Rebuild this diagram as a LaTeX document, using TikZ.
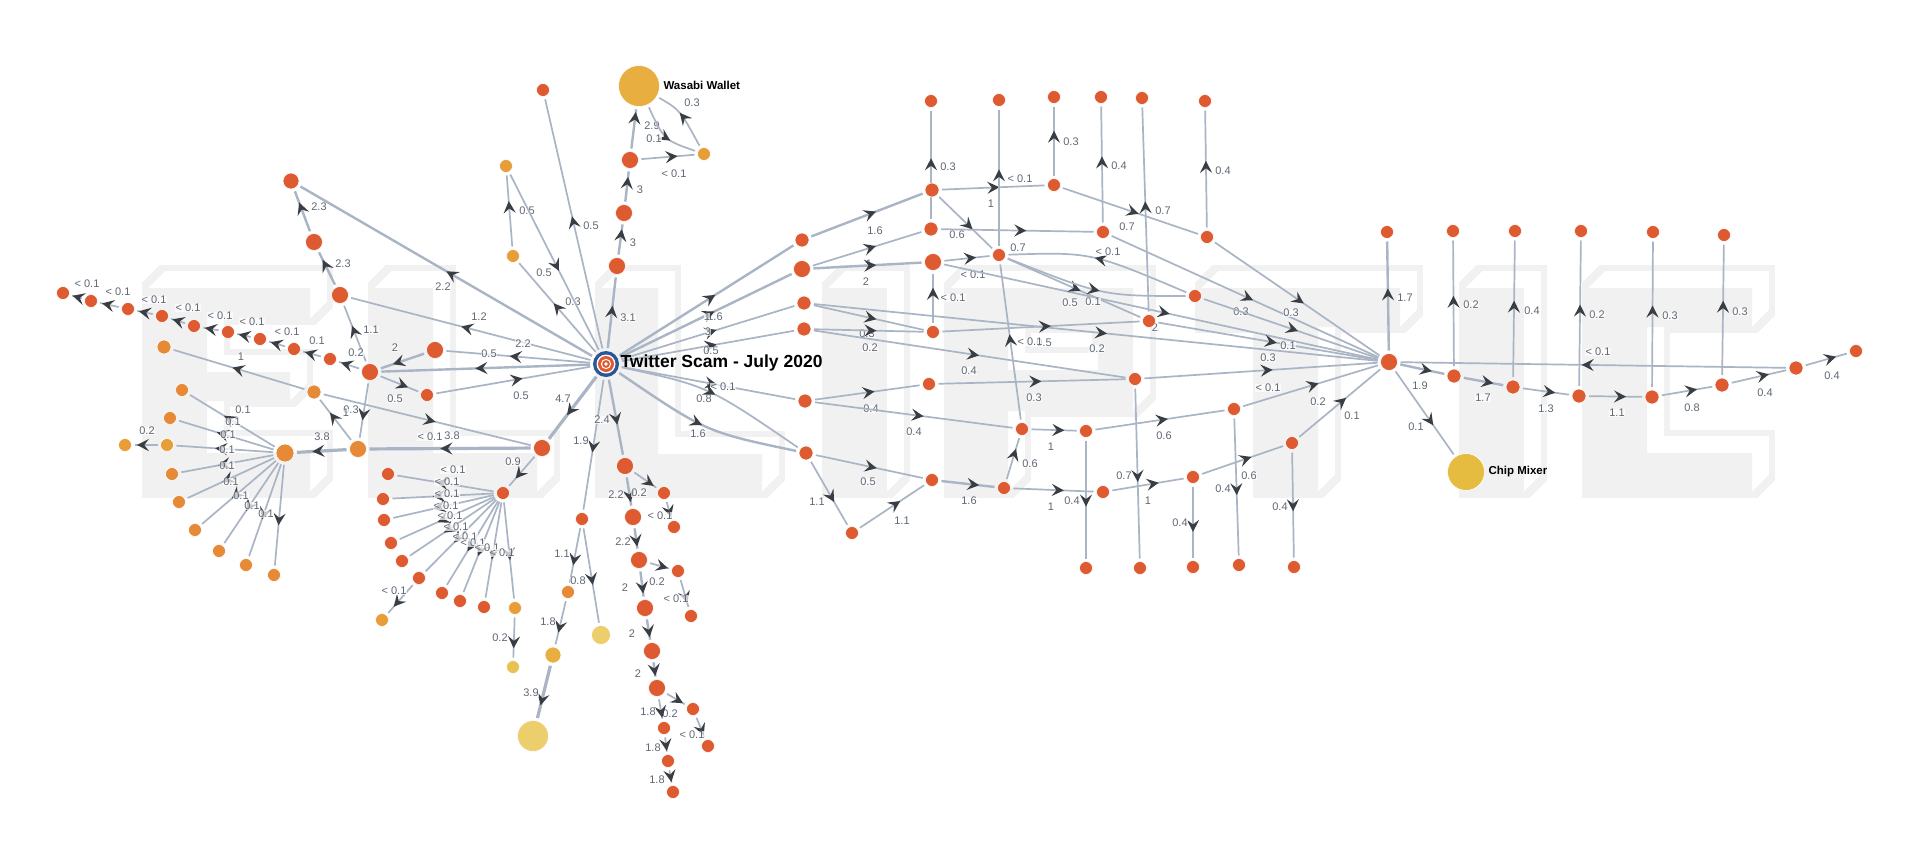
\documentclass[tikz,border=0pt]{standalone}
\usepackage{fontspec}
\setmainfont{Liberation Sans}
\usetikzlibrary{arrows.meta,decorations.markings,backgrounds}

\definecolor{rd}{HTML}{DE5A30}
\definecolor{org}{HTML}{E68A38}
\definecolor{amb}{HTML}{E89E38}
\definecolor{gld}{HTML}{E8AE40}
\definecolor{yel}{HTML}{ECCE6C}
\definecolor{chipcol}{HTML}{E5BC40}
\definecolor{edgecol}{HTML}{A9B5C5}
\definecolor{tipcol}{HTML}{3A3D42}
\definecolor{labcol}{HTML}{5F6875}
\definecolor{wmcol}{HTML}{F1F1F1}
\definecolor{hubblue}{HTML}{2B5797}

\tikzset{
  dot/.style={circle,inner sep=0pt,minimum size=#1,outer sep=3pt,draw=white,line width=.6pt},
  dot/.default=13pt,
  flow/.style={draw=edgecol,line width=1.7pt,postaction={decorate},
    decoration={markings,mark=at position #1 with {\arrow{Stealth[length=12pt,width=12pt,inset=4.5pt,color=tipcol]}}}},
  fat/.style={line width=2.4pt},
  fatter/.style={line width=3.2pt},
  lab/.style={font=\fontsize{11}{12}\selectfont,text=labcol,fill=white,fill opacity=.7,text opacity=1,inner sep=.4pt},
  wmedge/.style={draw=wmcol,line width=12pt,line join=miter},
  wmfill/.style={fill=wmcol,even odd rule},
}

% swept outline of a watermark letter, then its face
\newcommand{\wmletter}[1]{%
  \foreach \s in {0,...,17} {\draw[wmedge,shift={(\s,-\s)}] #1;}
  \foreach \s in {0,...,17} {\fill[white,even odd rule,shift={(\s,-\s)}] #1;}
  \fill[wmfill] #1;
}

\begin{document}
\begin{tikzpicture}[x=1pt,y=-1pt]
  \useasboundingbox (0,0) rectangle (1920,849);

  % main hub
  \node[circle,fill=hubblue,minimum size=26pt,inner sep=0pt,outer sep=3pt] (scam) at (606,364) {};
  \fill[white] (scam.center) circle (9.5pt);
  \fill[rd] (scam.center) circle (8pt);
  \draw[white,line width=1pt] (scam.center) circle (4.6pt);
  \fill[white] (scam.center) circle (1.8pt);
  \node[anchor=west,font=\fontsize{17.5}{20}\bfseries\selectfont] (scamlabel) at (617,363) {Twitter Scam - July 2020};

  % left branch
  \node[dot=16pt,fill=rd] (top1) at (291,181) {};
  \node[dot=17pt,fill=rd] (top2) at (314,242) {};
  \node[dot=17pt,fill=rd] (top3) at (340,295) {};
  \node[dot=17pt,fill=rd] (k0) at (370,372) {};
  \node[dot=13pt,fill=rd] (k1) at (330,359) {};
  \node[dot=13pt,fill=rd] (k2) at (294,349) {};
  \node[dot=13pt,fill=rd] (k3) at (260,339) {};
  \node[dot=13pt,fill=rd] (k4) at (228,332) {};
  \node[dot=13pt,fill=rd] (k5) at (194,326) {};
  \node[dot=13pt,fill=rd] (k6) at (162,316) {};
  \node[dot=13pt,fill=rd] (k7) at (128,309) {};
  \node[dot=13pt,fill=rd] (k8) at (91,301) {};
  \node[dot=13pt,fill=rd] (k9) at (63,293) {};
  \node[dot=17pt,fill=rd] (e1) at (435,350) {};
  \node[dot=13pt,fill=rd] (e2) at (427,395) {};
  \node[dot=14pt,fill=org] (o1) at (314,392) {};
  \node[dot=14pt,fill=org] (o0) at (164,347) {};
  \node[dot=17pt,fill=org] (o2) at (358,449) {};
  \node[dot=17pt,fill=rd] (r0) at (542,448) {};

  % first fan
  \node[dot=18pt,fill=org] (s1) at (285,453) {};
  \node[dot=13pt,fill=org] (s1a) at (182,390) {};
  \node[dot=13pt,fill=org] (s1b) at (170,418) {};
  \node[dot=13pt,fill=amb] (s1c) at (167,445) {};
  \node[dot=13pt,fill=org] (s1d) at (172,474) {};
  \node[dot=13pt,fill=org] (s1e) at (179,502) {};
  \node[dot=13pt,fill=org] (s1f) at (195,530) {};
  \node[dot=13pt,fill=org] (s1g) at (219,551) {};
  \node[dot=13pt,fill=org] (s1h) at (246,565) {};
  \node[dot=13pt,fill=org] (s1i) at (274,575) {};
  \node[dot=13pt,fill=amb] (o3) at (125,445) {};

  % second fan
  \node[dot=13pt,fill=rd] (s2) at (503,493) {};
  \node[dot=13pt,fill=rd] (s2a) at (388,474) {};
  \node[dot=13pt,fill=rd] (s2b) at (383,499) {};
  \node[dot=13pt,fill=rd] (s2c) at (384,520) {};
  \node[dot=13pt,fill=rd] (s2d) at (391,543) {};
  \node[dot=13pt,fill=rd] (s2e) at (402,561) {};
  \node[dot=13pt,fill=rd] (s2f) at (419,578) {};
  \node[dot=13pt,fill=rd] (s2g) at (442,593) {};
  \node[dot=13pt,fill=rd] (s2h) at (460,601) {};
  \node[dot=13pt,fill=rd] (s2i) at (484,607) {};
  \node[dot=13pt,fill=amb] (s2j) at (515,608) {};
  \node[dot=13pt,fill=amb] (s2k) at (382,620) {};
  \node[dot=13pt,fill=yel!40!chipcol] (s2l) at (513,667) {};

  % lower branches
  \node[dot=13pt,fill=rd] (d1) at (582,519) {};
  \node[dot=13pt,fill=org] (d2) at (568,592) {};
  \node[dot=19pt,fill=yel] (d3) at (601,635) {};
  \node[dot=16pt,fill=gld] (d4) at (553,655) {};
  \node[dot=31pt,fill=yel] (d5) at (533,736) {};
  \node[dot=17pt,fill=rd] (f0) at (625,466) {};
  \node[dot=13pt,fill=rd] (f1) at (664,493) {};
  \node[dot=13pt,fill=rd] (f2) at (674,527) {};
  \node[dot=17pt,fill=rd] (f3) at (633,517) {};
  \node[dot=17pt,fill=rd] (f4) at (639,560) {};
  \node[dot=13pt,fill=rd] (f5) at (678,571) {};
  \node[dot=13pt,fill=rd] (f6) at (691,616) {};
  \node[dot=17pt,fill=rd] (f7) at (645,608) {};
  \node[dot=17pt,fill=rd] (f8) at (652,651) {};
  \node[dot=17pt,fill=rd] (f9) at (657,688) {};
  \node[dot=13pt,fill=rd] (f10) at (693,709) {};
  \node[dot=13pt,fill=rd] (f11) at (708,746) {};
  \node[dot=13pt,fill=rd] (f12) at (664,728) {};
  \node[dot=13pt,fill=rd] (f13) at (668,761) {};
  \node[dot=13pt,fill=rd] (f14) at (673,792) {};

  % upper branches
  \node[dot=17pt,fill=rd] (u1) at (617,266) {};
  \node[dot=17pt,fill=rd] (u2) at (624,213) {};
  \node[dot=17pt,fill=rd] (u3) at (630,160) {};
  \node[dot=41pt,fill=gld] (wasabi) at (639,86) {};
  \node[anchor=west,font=\fontsize{11.5}{13}\bfseries\selectfont] (wasabilabel) at (660,85) {Wasabi Wallet};
  \node[dot=13pt,fill=amb] (u4) at (704,154) {};
  \node[dot=13pt,fill=rd] (u5) at (543,90) {};
  \node[dot=13pt,fill=amb] (u6) at (513,256) {};
  \node[dot=13pt,fill=amb] (u7) at (506,166) {};

  % right network
  \node[dot=14pt,fill=rd] (a1) at (802,240) {};
  \node[dot=17pt,fill=rd] (a2) at (802,269) {};
  \node[dot=14pt,fill=rd] (a3) at (804,303) {};
  \node[dot=14pt,fill=rd] (a4) at (804,329) {};
  \node[dot=14pt,fill=rd] (a5) at (805,401) {};
  \node[dot=14pt,fill=rd] (a6) at (806,453) {};
  \node[dot=14pt,fill=rd] (b1) at (932,190) {};
  \node[dot=14pt,fill=rd] (b2) at (931,229) {};
  \node[dot=17pt,fill=rd] (b3) at (933,262) {};
  \node[dot=13pt,fill=rd] (b4) at (933,332) {};
  \node[dot=13pt,fill=rd] (b5) at (929,384) {};
  \node[dot=13pt,fill=rd] (b6) at (932,480) {};
  \node[dot=13pt,fill=rd] (b7) at (852,533) {};
  \node[dot=13pt,fill=rd] (t1) at (931,101) {};
  \node[dot=13pt,fill=rd] (t2) at (999,100) {};
  \node[dot=13pt,fill=rd] (t3) at (1054,97) {};
  \node[dot=13pt,fill=rd] (t4) at (1101,97) {};
  \node[dot=13pt,fill=rd] (t5) at (1142,98) {};
  \node[dot=13pt,fill=rd] (t6) at (1205,101) {};
  \node[dot=13pt,fill=rd] (g1) at (1054,185) {};
  \node[dot=13pt,fill=rd] (g2) at (1103,232) {};
  \node[dot=13pt,fill=rd] (g3) at (1207,237) {};
  \node[dot=13pt,fill=rd] (g4) at (999,255) {};
  \node[dot=13pt,fill=rd] (g5) at (1195,296) {};
  \node[dot=13pt,fill=rd] (g6) at (1149,321) {};
  \node[dot=13pt,fill=rd] (g7) at (1135,379) {};
  \node[dot=13pt,fill=rd] (h1) at (1022,429) {};
  \node[dot=13pt,fill=rd] (h2) at (1086,431) {};
  \node[dot=13pt,fill=rd] (h3) at (1234,409) {};
  \node[dot=13pt,fill=rd] (h4) at (1004,488) {};
  \node[dot=13pt,fill=rd] (h5) at (1103,492) {};
  \node[dot=13pt,fill=rd] (h6) at (1193,477) {};
  \node[dot=13pt,fill=rd] (h7) at (1292,443) {};
  \node[dot=13pt,fill=rd] (v1) at (1086,568) {};
  \node[dot=13pt,fill=rd] (v2) at (1140,568) {};
  \node[dot=13pt,fill=rd] (v3) at (1193,567) {};
  \node[dot=13pt,fill=rd] (v4) at (1239,565) {};
  \node[dot=13pt,fill=rd] (v5) at (1294,567) {};

  % far right
  \node[dot=17pt,fill=rd] (merge) at (1389,362) {};
  \node[dot=37pt,fill=chipcol] (chip) at (1466,472) {};
  \node[anchor=west,font=\fontsize{11.5}{13}\bfseries\selectfont] (chiplabel) at (1485,472) {Chip Mixer};
  \node[dot=14pt,fill=rd] (m1) at (1454,376) {};
  \node[dot=14pt,fill=rd] (m2) at (1513,387) {};
  \node[dot=14pt,fill=rd] (m3) at (1579,396) {};
  \node[dot=14pt,fill=rd] (m4) at (1652,397) {};
  \node[dot=14pt,fill=rd] (m5) at (1722,385) {};
  \node[dot=14pt,fill=rd] (m6) at (1796,368) {};
  \node[dot=13pt,fill=rd] (m7) at (1856,351) {};
  \node[dot=13pt,fill=rd] (w0) at (1387,232) {};
  \node[dot=13pt,fill=rd] (w1) at (1453,231) {};
  \node[dot=13pt,fill=rd] (w2) at (1515,231) {};
  \node[dot=13pt,fill=rd] (w3) at (1581,231) {};
  \node[dot=13pt,fill=rd] (w4) at (1653,232) {};
  \node[dot=13pt,fill=rd] (w5) at (1724,235) {};

  \begin{scope}[on background layer]
    \fill[white] (0,0) rectangle (1920,849);
    % watermark
    \wmletter{(148,288)--(310,288)--(310,319)--(207,319)--(207,372)--(290,372)--(290,401)--(207,401)--(207,453)--(310,453)--(310,492)--(148,492)--cycle}
    \wmletter{(374,288)--(433,288)--(433,453)--(537,453)--(537,492)--(374,492)--cycle}
    \wmletter{(601,288)--(658,288)--(658,454)--(762,454)--(762,492)--(601,492)--cycle}
    \wmletter{(828,288)--(887,288)--(887,492)--(828,492)--cycle}
    \wmletter{(950,288)--(1133,288)--(1133,411)--(1008,411)--(1008,492)--(950,492)--cycle (1008,327)--(1098,327)--(1098,370)--(1008,370)--cycle}
    \wmletter{(1201,288)--(1400,288)--(1400,327)--(1318,327)--(1318,492)--(1259,492)--(1259,327)--(1201,327)--cycle}
    \wmletter{(1465,288)--(1524,288)--(1524,492)--(1465,492)--cycle}
    \wmletter{(1588,288)--(1752,288)--(1752,327)--(1647,327)--(1647,453)--(1752,453)--(1752,492)--(1588,492)--cycle}

    % left branch
    \draw[flow=.5,fat] (scam) -- (top1) node[lab] at (443,287) {2.2};
    \draw[flow=.54] (scam) -- (top3) node[lab] at (479,317) {1.2};
    \draw[flow=.55,fat] (scam) -- (k0) node[lab] at (523,344) {2.2};
    \draw[flow=.56] (scam) -- (e1) node[lab] at (489,354) {0.5};
    \draw[flow=.56] (e2) -- (scam) node[lab] at (521,396) {0.5};
    \draw[flow=.72,fat] (top2) -- (top1) node[lab] at (319,207) {2.3};
    \draw[flow=.77,fat] (top3) -- (top2) node[lab] at (343,264) {2.3};
    \draw[flow=.64] (k0) -- (top3) node[lab] at (371,330) {1.1};
    \draw[flow=.72,fat] (e1) -- (k0) node[lab] at (395,348) {2};
    \draw[flow=.73] (k0) -- (e2) node[lab] at (395,399) {0.5};
    \draw[flow=.9] (k0) -- (k1) node[lab] at (356,353) {0.2};
    \draw[flow=.9] (k1) -- (k2) node[lab] at (317,341) {0.1};
    \draw[flow=.9] (k2) -- (k3) node[lab] at (287,332) {< 0.1};
    \draw[flow=.9] (k3) -- (k4) node[lab] at (252,322) {< 0.1};
    \draw[flow=.9] (k4) -- (k5) node[lab] at (220,316) {< 0.1};
    \draw[flow=.9] (k5) -- (k6) node[lab] at (188,308) {< 0.1};
    \draw[flow=.9] (k6) -- (k7) node[lab] at (154,300) {< 0.1};
    \draw[flow=.9] (k7) -- (k8) node[lab] at (118,292) {< 0.1};
    \draw[flow=.95] (k8) -- (k9) node[lab] at (87,284) {< 0.1};
    \draw[flow=.68] (k0) -- (o2) node[lab] at (351,410) {0.3};
    \draw[flow=.68] (o2) -- (o1) node[lab] at (346,413) {1};
    \draw[flow=.55] (o1) -- (o0) node[lab] at (241,357) {1};
    \draw[flow=.54] (o1) -- (r0) node[lab] at (430,437) {< 0.1};
    \draw[flow=.56,fatter] (r0) -- (o2) node[lab] at (452,436) {3.8};
    \draw[flow=.69,fatter] (o2) -- (s1) node[lab] at (322,437) {3.8};
    \draw[flow=.62,fatter] (scam) -- (r0) node[lab] at (563,399) {4.7};
    \draw[flow=.75] (r0) -- (s2) node[lab] at (513,462) {0.9};

    % first fan
    \draw[flow=.6] (s1) -- (s1a) node[lab] at (243,410) {0.1};
    \draw[flow=.6] (s1) -- (s1b) node[lab] at (233,422) {0.1};
    \draw[flow=.6] (s1) -- (s1c) node[lab] at (228,435) {0.1};
    \draw[flow=.6] (s1) -- (s1d) node[lab] at (227,450) {0.1};
    \draw[flow=.6] (s1) -- (s1e) node[lab] at (227,466) {0.1};
    \draw[flow=.6] (s1) -- (s1f) node[lab] at (231,482) {0.1};
    \draw[flow=.6] (s1) -- (s1g) node[lab] at (241,496) {0.1};
    \draw[flow=.6] (s1) -- (s1h) node[lab] at (252,506) {0.1};
    \draw[flow=.6] (s1) -- (s1i) node[lab] at (266,514) {0.1};
    \draw[flow=.9] (s1c) -- (o3) node[lab] at (147,431) {0.2};

    % second fan
    \draw[flow=.6] (s2) -- (s2a) node[lab] at (453,470) {< 0.1};
    \draw[flow=.6] (s2) -- (s2b) node[lab] at (447,482) {< 0.1};
    \draw[flow=.6] (s2) -- (s2c) node[lab] at (447,494) {< 0.1};
    \draw[flow=.6] (s2) -- (s2d) node[lab] at (446,506) {< 0.1};
    \draw[flow=.6] (s2) -- (s2e) node[lab] at (450,516) {< 0.1};
    \draw[flow=.6] (s2) -- (s2f) node[lab] at (456,527) {< 0.1};
    \draw[flow=.6] (s2) -- (s2g) node[lab] at (465,537) {< 0.1};
    \draw[flow=.6] (s2) -- (s2h) node[lab] at (473,543) {< 0.1};
    \draw[flow=.6] (s2) -- (s2i) node[lab] at (487,548) {< 0.1};
    \draw[flow=.6] (s2) -- (s2j) node[lab] at (502,553) {< 0.1};
    \draw[flow=.78] (s2f) -- (s2k) node[lab] at (394,591) {< 0.1};
    \draw[flow=.77] (s2j) -- (s2l) node[lab] at (500,638) {0.2};

    % lower branches
    \draw[flow=.56] (scam) -- (d1) node[lab] at (581,441) {1.9};
    \draw[flow=.68] (d1) -- (d2) node[lab] at (562,554) {1.1};
    \draw[flow=.6] (d1) -- (d3) node[lab] at (578,581) {0.8};
    \draw[flow=.73] (d2) -- (d4) node[lab] at (548,622) {1.8};
    \draw[flow=.76,fatter] (d4) -- (d5) node[lab] at (531,693) {3.9};
    \draw[flow=.6,fat] (scam) -- (f0) node[lab] at (602,420) {2.4};
    \draw[flow=.87,fat] (f0) -- (f3) node[lab] at (616,495) {2.2};
    \draw[flow=.89] (f0) -- (f1) node[lab] at (639,493) {0.2};
    \draw[flow=.95] (f1) -- (f2) node[lab] at (660,516) {< 0.1};
    \draw[flow=.9,fat] (f3) -- (f4) node[lab] at (623,542) {2.2};
    \draw[flow=.95] (f4) -- (f5) node[lab] at (657,582) {0.2};
    \draw[flow=.86] (f5) -- (f6) node[lab] at (676,599) {< 0.1};
    \draw[flow=.88,fat] (f4) -- (f7) node[lab] at (625,588) {2};
    \draw[flow=.88,fat] (f7) -- (f8) node[lab] at (632,634) {2};
    \draw[flow=.95,fat] (f8) -- (f9) node[lab] at (638,674) {2};
    \draw[flow=.9] (f9) -- (f10) node[lab] at (670,714) {0.2};
    \draw[flow=.92] (f10) -- (f11) node[lab] at (692,735) {< 0.1};
    \draw[flow=.95] (f9) -- (f12) node[lab] at (648,712) {1.8};
    \draw[flow=.95] (f12) -- (f13) node[lab] at (653,748) {1.8};
    \draw[flow=.95] (f13) -- (f14) node[lab] at (657,780) {1.8};

    % upper branches
    \draw[flow=.6,fat] (scam) -- (u1) node[lab] at (628,318) {3.1};
    \draw[flow=.84,fat] (u1) -- (u2) node[lab] at (633,243) {3};
    \draw[flow=.82,fat] (u2) -- (u3) node[lab] at (640,190) {3};
    \draw[flow=.93,fat] (u3) -- (wasabi) node[lab] at (652,126) {2.9};
    \draw[flow=.68] (u3) -- (u4) node[lab] at (674,174) {< 0.1};
    \draw[flow=.6] (wasabi) .. controls (664,140) .. (u4) node[lab] at (654,139) {0.1};
    \draw[flow=.6] (u4) .. controls (680,110) .. (wasabi) node[lab] at (692,103) {0.3};
    \draw[flow=.53] (scam) -- (u5) node[lab] at (591,226) {0.5};
    \draw[flow=.55] (scam) -- (u6) node[lab] at (573,302) {0.3};
    \draw[flow=.64] (u6) -- (u7) node[lab] at (527,211) {0.5};
    \draw[flow=.55] (u7) -- (scam) node[lab] at (544,273) {0.5};

    % right network
    \draw[flow=.55,fat] (scam) -- (a1) node[lab] at (715,317) {1.6};
    \draw[flow=.55,fat] (scam) -- (a2) node[lab] at (707,317) {1};
    \draw[flow=.55] (scam) -- (a3) node[lab] at (708,332) {3};
    \draw[flow=.55] (scam) -- (a4) node[lab] at (711,351) {0.5};
    \draw[flow=.55] (scam) -- (a5) node[lab] at (723,387) {< 0.1};
    \draw[flow=.5] (scam) .. controls (708,386) .. (a6) node[lab] at (704,399) {0.8};
    \draw[flow=.5,fat] (scam) .. controls (706,432) .. (a6) node[lab] at (698,434) {1.6};
    \draw[flow=.58,fat] (a1) -- (b1) node[lab] at (875,231) {1.6};
    \draw[flow=.58] (a2) -- (b2) node[lab] at (869,264) {1};
    \draw[flow=.58,fat] (a2) -- (b3) node[lab] at (866,282) {2};
    \draw[flow=.7] (b3) -- (g4) node[lab] at (973,275) {< 0.1};
    \draw[flow=.71] (b4) -- (b3) node[lab] at (953,298) {< 0.1};
    \draw[flow=.57] (a3) -- (b4) node[lab] at (867,334) {0.3};
    \draw[flow=.57] (a4) -- (b4) node[lab] at (870,348) {0.2};
    \draw[flow=.52] (a3) -- (merge) node[lab] at (1097,349) {0.2};
    \draw[flow=.53] (a4) -- (g7) node[lab] at (969,371) {0.4};
    \draw[flow=.55] (b4) -- (g6) node[lab] at (1044,343) {0.5};
    \draw[flow=.52] (b3) -- (merge) node[lab] at (1155,328) {2};
    \draw[flow=.55] (h1) -- (g4) node[lab] at (1030,342) {< 0.1};
    \draw[flow=.57] (a5) -- (b5) node[lab] at (871,409) {0.4};
    \draw[flow=.55] (a5) -- (h1) node[lab] at (914,432) {0.4};
    \draw[flow=.55] (b5) -- (g7) node[lab] at (1034,398) {0.3};
    \draw[flow=.55] (g7) -- (merge) node[lab] at (1268,388) {< 0.1};
    \draw[flow=.55] (g7) -- (v2) node[lab] at (1124,476) {0.7};
    \draw[flow=.73] (h1) -- (h2) node[lab] at (1051,447) {1};
    \draw[flow=.56] (h2) -- (v1) node[lab] at (1072,501) {0.4};
    \draw[flow=.56] (h2) -- (h3) node[lab] at (1164,436) {0.6};
    \draw[flow=.56] (h3) -- (merge) node[lab] at (1318,402) {0.2};
    \draw[flow=.56] (h3) -- (v4) node[lab] at (1223,489) {0.4};
    \draw[flow=.57] (a6) -- (b6) node[lab] at (868,482) {0.5};
    \draw[flow=.64] (a6) -- (b7) node[lab] at (817,502) {1.1};
    \draw[flow=.63] (b7) -- (b6) node[lab] at (902,521) {1.1};
    \draw[flow=.71,fat] (b6) -- (h4) node[lab] at (969,501) {1.6};
    \draw[flow=.74] (h4) -- (h1) node[lab] at (1030,464) {0.6};
    \draw[flow=.63] (h4) -- (h5) node[lab] at (1051,507) {1};
    \draw[flow=.65] (h5) -- (h6) node[lab] at (1148,501) {1};
    \draw[flow=.64] (h6) -- (v3) node[lab] at (1180,523) {0.4};
    \draw[flow=.61] (h6) -- (h7) node[lab] at (1249,476) {0.6};
    \draw[flow=.56] (h7) -- (v5) node[lab] at (1280,507) {0.4};
    \draw[flow=.58] (h7) -- (merge) node[lab] at (1352,416) {0.1};
    \draw[flow=.56] (b2) -- (t1) node[lab] at (948,167) {0.3};
    \draw[flow=.56] (b1) -- (g1) node[lab] at (991,204) {1};
    \draw[flow=.63] (b1) -- (g4) node[lab] at (957,235) {0.6};
    \draw[flow=.56] (b2) -- (g2) node[lab] at (1018,248) {0.7};
    \draw[flow=.56] (g4) -- (t2) node[lab] at (1020,179) {< 0.1};
    \draw[flow=.65] (g1) -- (t3) node[lab] at (1071,142) {0.3};
    \draw[flow=.56] (g1) -- (g3) node[lab] at (1127,227) {0.7};
    \draw[flow=.57] (g2) -- (t4) node[lab] at (1119,166) {0.4};
    \draw[flow=.54] (g6) -- (t5) node[lab] at (1163,211) {0.7};
    \draw[flow=.57] (g3) -- (t6) node[lab] at (1223,171) {0.4};
    \draw[flow=.53] (g2) -- (merge) node[lab] at (1241,312) {0.3};
    \draw[flow=.54] (g3) -- (merge) node[lab] at (1291,313) {0.3};
    \draw[flow=.55] (g4) -- (g6) node[lab] at (1070,303) {0.5};
    \draw[flow=.53] (g4) .. controls (1103,296) .. (g5) node[lab] at (1093,302) {0.1};
    \draw[flow=.53] (g5) .. controls (1091,252) .. (g4) node[lab] at (1108,252) {< 0.1};
    \draw[flow=.54] (g5) -- (merge) node[lab] at (1268,358) {0.3};
    \draw[flow=.54] (g6) -- (merge) node[lab] at (1288,346) {0.1};

    % far right
    \draw[flow=.65] (merge) -- (chip) node[lab] at (1416,427) {0.1};
    \draw[flow=.57,fat] (merge) -- (w0) node[lab] at (1405,298) {1.7};
    \draw[flow=.72,fat] (merge) -- (m1) node[lab] at (1420,386) {1.9};
    \draw[flow=.75,fat] (m1) -- (m2) node[lab] at (1483,398) {1.7};
    \draw[flow=.7] (m2) -- (m3) node[lab] at (1546,409) {1.3};
    \draw[flow=.7] (m3) -- (m4) node[lab] at (1617,413) {1.1};
    \draw[flow=.7] (m4) -- (m5) node[lab] at (1692,408) {0.8};
    \draw[flow=.68] (m5) -- (m6) node[lab] at (1765,393) {0.4};
    \draw[flow=.74] (m6) -- (m7) node[lab] at (1832,376) {0.4};
    \draw[flow=.53] (m6) -- (merge) node[lab] at (1598,352) {< 0.1};
    \draw[flow=.56] (m1) -- (w1) node[lab] at (1471,305) {0.2};
    \draw[flow=.56] (m2) -- (w2) node[lab] at (1532,311) {0.4};
    \draw[flow=.56] (m3) -- (w3) node[lab] at (1597,315) {0.2};
    \draw[flow=.56] (m4) -- (w4) node[lab] at (1670,316) {0.3};
    \draw[flow=.57] (m5) -- (w5) node[lab] at (1740,312) {0.3};
  \end{scope}
\end{tikzpicture}
\end{document}
